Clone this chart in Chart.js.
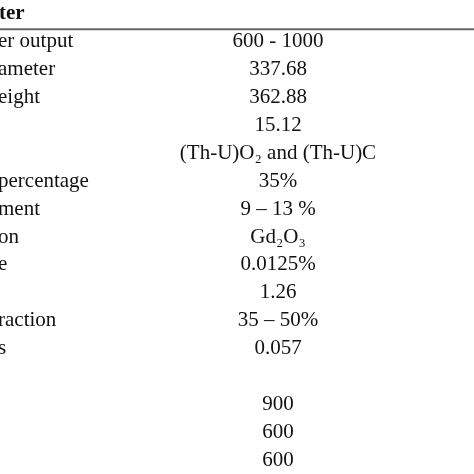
<!DOCTYPE html>
<html>
<head>
<meta charset="utf-8">
<script src="https://cdn.jsdelivr.net/npm/chart.js@4"></script>
<style>
  html, body { margin: 0; padding: 0; background: #fff; }
  #wrap { width: 474px; height: 474px; }
</style>
</head>
<body>
<div id="wrap"><canvas id="myChart" width="474" height="474"></canvas></div>
<script>
// header first, then one entry per table row (left column is cut off in the picture)
var headerLabel = "ter";
var rowLabels = ["er output", "ameter", "eight", "", "", "percentage", "ment", "on", "e", "", "raction", "s", "", "", "", ""];
var rowValues = ["600 - 1000", "337.68", "362.88", "15.12", "(Th-U)O\u2082 and (Th-U)C", "35%", "9 \u2013 13 %", "Gd\u2082O\u2083", "0.0125%", "1.26", "35 \u2013 50%", "0.057", "", "900", "600", "600"];

function buildPoints() {
    var pts = [];
    rowValues.forEach(function (v, i) {
        pts.push({ x: 278, y: i + 1 });
    });
    return pts;
}

var tablePlugin = {
    id: "tableText",
    afterDatasetsDraw: function (chart) {
        var ctx = chart.ctx;
        var xs = chart.scales.x;
        var ys = chart.scales.y;
        ctx.save();
        ctx.fillStyle = "#111";
        ctx.textBaseline = "middle";

        ctx.font = "bold 21px 'Liberation Serif'";
        ctx.textAlign = "left";
        ctx.fillText(headerLabel, xs.getPixelForValue(-1), ys.getPixelForValue(0));

        ctx.strokeStyle = "#666";
        ctx.lineWidth = 2;
        ctx.beginPath();
        ctx.moveTo(xs.getPixelForValue(0), ys.getPixelForValue(0.55));
        ctx.lineTo(xs.getPixelForValue(474), ys.getPixelForValue(0.55));
        ctx.stroke();

        ctx.font = "21px 'Liberation Serif'";
        var meta = chart.getDatasetMeta(0);
        meta.data.forEach(function (pt, i) {
            ctx.textAlign = "left";
            ctx.fillText(rowLabels[i], xs.getPixelForValue(-2), pt.y);
            ctx.textAlign = "center";
            ctx.fillText(rowValues[i], pt.x, pt.y);
        });
        ctx.restore();
    }
};

var ctx = document.getElementById("myChart").getContext("2d");
var myChart = new Chart(ctx, {
    type: "scatter",
    data: {
        datasets: [{ data: buildPoints(), pointRadius: 0 }]
    },
    options: {
        responsive: false,
        animation: false,
        layout: { padding: 0 },
        plugins: { legend: { display: false }, tooltip: { enabled: false } },
        scales: {
            x: { display: false, min: 0, max: 474 },
            y: { display: false, min: -0.5, max: 16.5, reverse: true }
        }
    },
    plugins: [tablePlugin]
});
</script>
</body>
</html>
